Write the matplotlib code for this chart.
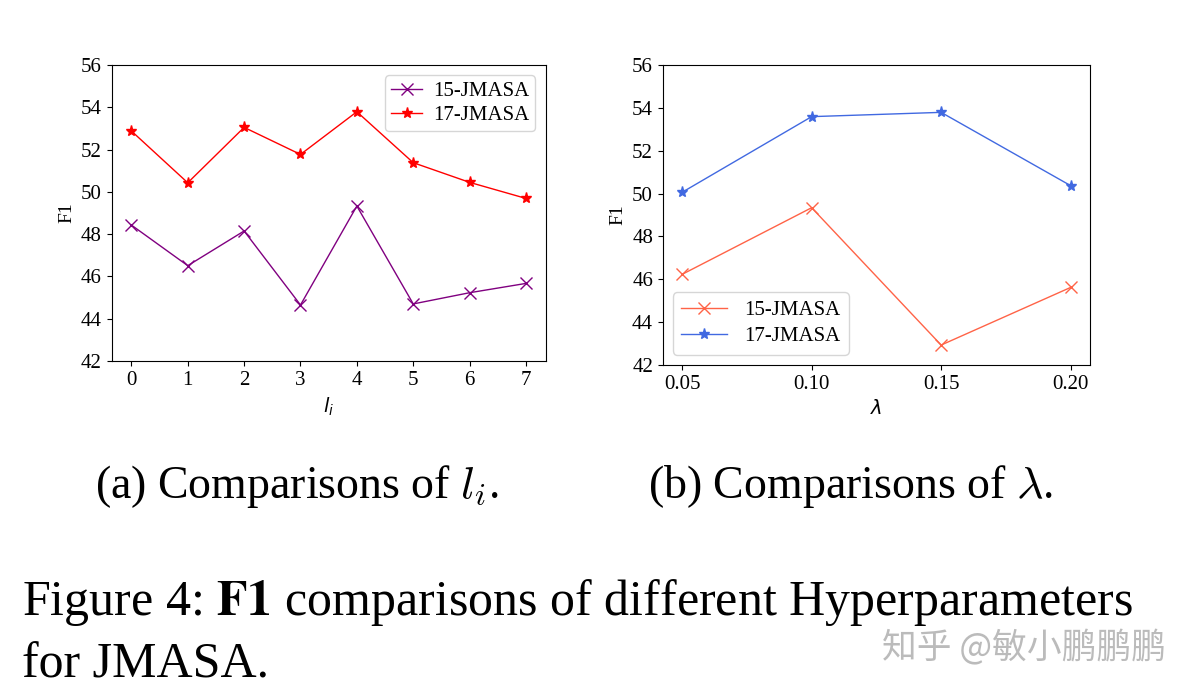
import numpy as np
import matplotlib
matplotlib.use('Agg')
import matplotlib.pyplot as plt

plt.rcParams['font.family'] = ['Liberation Serif', 'DejaVu Serif']
plt.rcParams['mathtext.fontset'] = 'dejavusans'

# (a) comparisons of l_i
li = [0, 1, 2, 3, 4, 5, 6, 7]
li_15 = [48.43, 46.51, 48.15, 44.65, 49.33, 44.70, 45.23, 45.67]
li_17 = [52.88, 50.43, 53.05, 51.77, 53.79, 51.38, 50.45, 49.69]

# (b) comparisons of lambda
lam = [0.05, 0.10, 0.15, 0.20]
lam_15 = [46.23, 49.34, 42.93, 45.62]
lam_17 = [50.06, 53.59, 53.79, 50.37]

yticks = [42, 44, 46, 48, 50, 52, 54, 56]

fig = plt.figure(figsize=(11.98, 6.96), dpi=100)
ax1 = fig.add_axes([0.0932, 0.4813, 0.3623, 0.4253])
ax2 = fig.add_axes([0.5532, 0.4756, 0.3567, 0.4310])

ax1.plot(li, li_15, color='purple', marker='x', markersize=9, linewidth=1, label='15-JMASA')
ax1.plot(li, li_17, color='red', marker='*', markersize=8, linewidth=1, label='17-JMASA')
ax1.set_xticks(li)
ax1.set_xlabel('$l_i$', fontsize=14)
ax1.legend(loc='upper right', fontsize=15, handlelength=1.5, borderpad=0.3,
           labelspacing=0.2, handletextpad=0.5)

ax2.plot(lam, lam_15, color='tomato', marker='x', markersize=9, linewidth=1, label='15-JMASA')
ax2.plot(lam, lam_17, color='royalblue', marker='*', markersize=8, linewidth=1, label='17-JMASA')
ax2.set_xticks(lam)
ax2.set_xticklabels(['0.05', '0.10', '0.15', '0.20'])
ax2.set_xlabel(r'$\lambda$', fontsize=14)
ax2.legend(loc='lower left', fontsize=15, handlelength=2.2, borderpad=0.4,
           labelspacing=0.3, handletextpad=0.8)

for ax in (ax1, ax2):
    ax.set_ylim(42, 56)
    ax.set_yticks(yticks)
    ax.set_ylabel('F1', fontsize=14)
    ax.tick_params(labelsize=15)

fig.text(0.248, 0.285, r'(a) Comparisons of $l_i$.', fontsize=33, ha='center',
         va='baseline', math_fontfamily='cm')
fig.text(0.710, 0.285, r'(b) Comparisons of $\lambda$.', fontsize=33, ha='center',
         va='baseline', math_fontfamily='cm')

fig.text(0.018, 0.116, r'Figure 4: $\mathbf{F1}$ comparisons of different Hyperparameters',
         fontsize=36, va='baseline', math_fontfamily='stix')
fig.text(0.018, 0.027, 'for JMASA.', fontsize=36, va='baseline')

fig.text(0.973, 0.069, '知乎 @敏小鹏鹏鹏', fontsize=25, ha='right', va='center',
         color='#bbbbbb', family=['Noto Sans CJK SC', 'DejaVu Sans'])

fig.savefig('out.png', dpi=100)
